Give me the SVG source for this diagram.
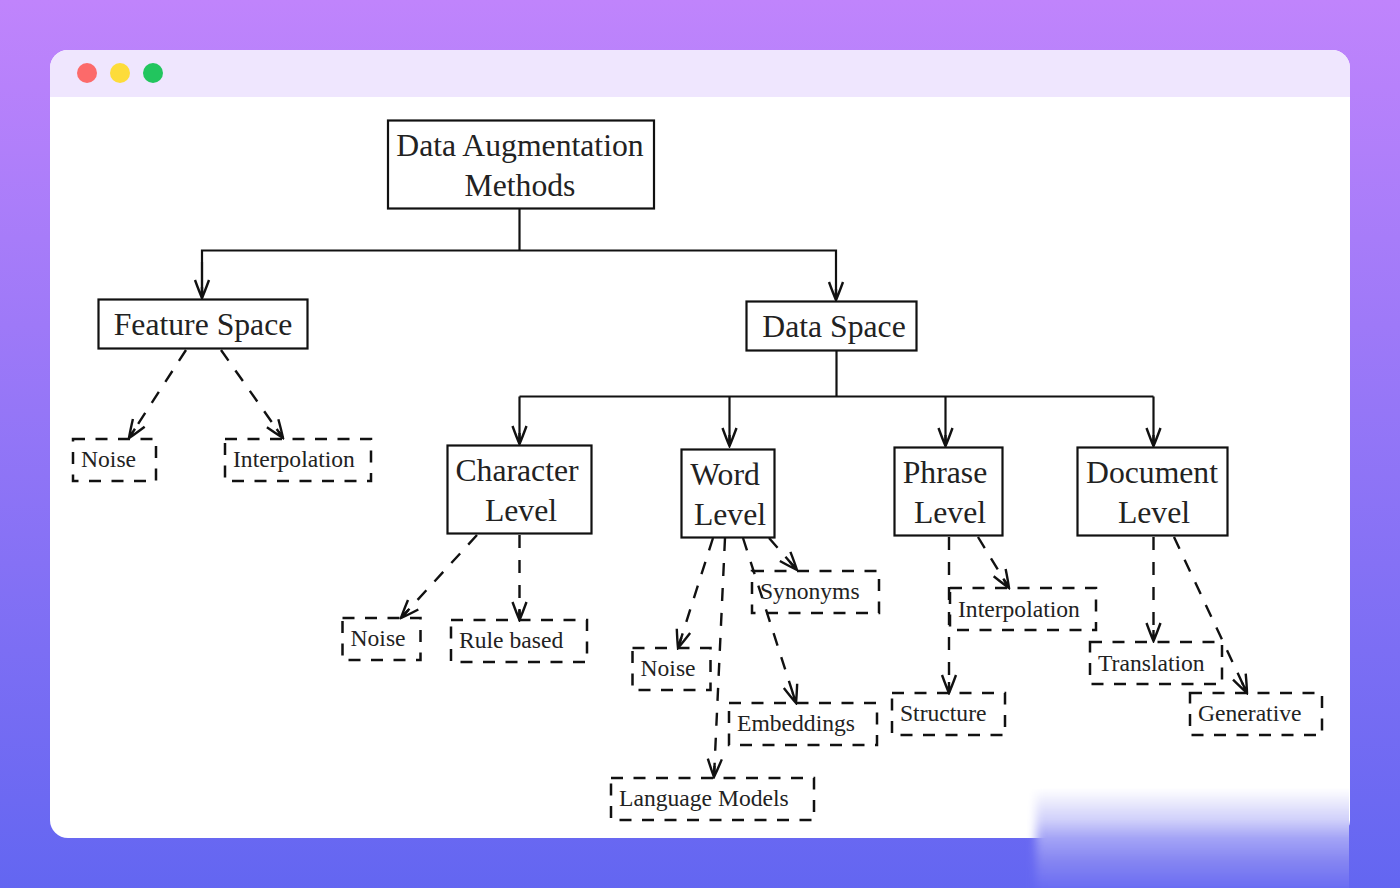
<svg xmlns="http://www.w3.org/2000/svg" width="1400" height="888" viewBox="0 0 1400 888">
<style>
text{font-family:"Liberation Serif","Times New Roman",serif;fill:#222}
.l{font-size:31.7px;text-anchor:middle}
.s{font-size:23.6px}
.b{fill:#fff;stroke:#111;stroke-width:2.2}
.d{fill:none;stroke:#111;stroke-width:2.5;stroke-dasharray:12 10.500}
.c{fill:none;stroke:#111;stroke-width:2.2}
.cd{fill:none;stroke:#111;stroke-width:2.4;stroke-dasharray:13 12}
.h{fill:none;stroke:#111;stroke-width:2.4;stroke-dasharray:none}
</style>
<defs>
<linearGradient id="bg" x1="0" y1="0" x2="0" y2="1"><stop offset="0" stop-color="#c084fc"/><stop offset="1" stop-color="#6366f1"/></linearGradient>
<linearGradient id="sm" x1="0" y1="0" x2="0" y2="1"><stop offset="0" stop-color="#fff"/><stop offset="0.09" stop-color="#fff"/><stop offset="0.2" stop-color="#eeeefd"/><stop offset="0.38" stop-color="#d0d0fa"/><stop offset="0.545" stop-color="#a4a4f6"/><stop offset="0.75" stop-color="#8686f2"/><stop offset="1" stop-color="#6a6cf3"/></linearGradient>
<filter id="soft" x="-5%" y="0" width="110%" height="100%"><feGaussianBlur stdDeviation="5 0"/></filter>
<clipPath id="smc"><rect x="1000" y="770" width="349" height="118"/></clipPath>
<marker id="a" viewBox="-20 -10 22 20" refX="0" refY="0" markerWidth="22" markerHeight="20" markerUnits="userSpaceOnUse" orient="auto"><path class="h" d="M-18-7Q-7-3 0 0Q-7 3-18 7M-11 0H0"/></marker>
</defs>
<rect id="background" width="1400" height="888" fill="url(#bg)"/>
<g id="window">
<rect x="50" y="50" width="1300" height="788" rx="18" fill="#fff"/>
<path d="M50 97V68a18 18 0 0 1 18-18H1332a18 18 0 0 1 18 18V97Z" fill="#efe6fe"/>
<circle cx="87" cy="73" r="10" fill="#fc6a6a"/>
<circle cx="120" cy="73" r="10" fill="#fddc3a"/>
<circle cx="153" cy="73" r="10" fill="#22c55e"/>
</g>
<g id="connectors">
<path class="c" d="M519.500 209V250.500"/>
<path class="c" d="M202 298V250.500H836V300" marker-end="url(#a)"/>
<path class="c" d="M202 262V298" marker-end="url(#a)"/>
<path class="c" d="M836.500 351V396.500"/>
<path class="c" d="M519.500 396.500H1153.500"/>
<path class="c" d="M519.500 396.500V444" marker-end="url(#a)"/>
<path class="c" d="M729.500 396.500V446" marker-end="url(#a)"/>
<path class="c" d="M945.500 396.500V446" marker-end="url(#a)"/>
<path class="c" d="M1153.500 396.500V446" marker-end="url(#a)"/>
<path class="cd" d="M186 350L129 438" marker-end="url(#a)"/>
<path class="cd" d="M221 350L283 438" marker-end="url(#a)"/>
<path class="cd" d="M477 535L401 618" marker-end="url(#a)"/>
<path class="cd" d="M519.500 535V620" marker-end="url(#a)"/>
<path class="cd" d="M713 538L678 648" marker-end="url(#a)"/>
<path class="cd" d="M725 538L714 777" marker-end="url(#a)"/>
<path class="cd" d="M743 538L796 703" marker-end="url(#a)"/>
<path class="cd" d="M769 538L797 570" marker-end="url(#a)"/>
<path class="cd" d="M949 537V693" marker-end="url(#a)"/>
<path class="cd" d="M978 537L1009 588" marker-end="url(#a)"/>
<path class="cd" d="M1153.500 537V641" marker-end="url(#a)"/>
<path class="cd" d="M1174 537L1247 693" marker-end="url(#a)"/>
</g>
<g id="root"><rect class="b" x="388" y="120.500" width="266" height="88"/><text class="l" x="520" y="156">Data Augmentation</text><text class="l" x="520" y="196">Methods</text></g>
<g id="feature-space"><rect class="b" x="98.500" y="299.500" width="209" height="49"/><text class="l" x="203" y="335">Feature Space</text></g>
<g id="data-space"><rect class="b" x="746.500" y="301.500" width="170" height="49"/><text class="l" x="834" y="337">Data Space</text></g>
<g id="character-level"><rect class="b" x="447.500" y="445.500" width="144" height="88"/><text class="l" x="517" y="481">Character</text><text class="l" x="521" y="521">Level</text></g>
<g id="word-level"><rect class="b" x="681.500" y="449.500" width="93" height="88"/><text class="l" x="725" y="485">Word</text><text class="l" x="730" y="525">Level</text></g>
<g id="phrase-level"><rect class="b" x="894.500" y="447.500" width="108" height="88"/><text class="l" x="945" y="483">Phrase</text><text class="l" x="950" y="523">Level</text></g>
<g id="document-level"><rect class="b" x="1077.500" y="447.500" width="150" height="88"/><text class="l" x="1152" y="483">Document</text><text class="l" x="1154" y="523">Level</text></g>
<g id="fs-noise"><rect class="d" x="73" y="439" width="83" height="42"/><text class="s" x="81" y="467">Noise</text></g>
<g id="fs-interpolation"><rect class="d" x="225" y="439" width="146" height="42"/><text class="s" x="233" y="467">Interpolation</text></g>
<g id="cl-noise"><rect class="d" x="342.500" y="618" width="78" height="42"/><text class="s" x="350.500" y="646">Noise</text></g>
<g id="cl-rule"><rect class="d" x="451" y="620" width="136" height="42"/><text class="s" x="459" y="648">Rule based</text></g>
<g id="wl-noise"><rect class="d" x="632.500" y="648" width="78" height="42"/><text class="s" x="640.500" y="676">Noise</text></g>
<g id="wl-synonyms"><rect class="d" x="752" y="571" width="127" height="42"/><text class="s" x="760" y="599">Synonyms</text></g>
<g id="wl-embeddings"><rect class="d" x="729" y="703" width="148" height="42"/><text class="s" x="737" y="731">Embeddings</text></g>
<g id="wl-language"><rect class="d" x="611" y="778" width="203" height="42"/><text class="s" x="619" y="806">Language Models</text></g>
<g id="pl-interpolation"><rect class="d" x="950" y="588" width="146" height="42"/><text class="s" x="958" y="617">Interpolation</text></g>
<g id="pl-structure"><rect class="d" x="892" y="693" width="113" height="42"/><text class="s" x="900" y="721">Structure</text></g>
<g id="dl-translation"><rect class="d" x="1090" y="642" width="132" height="42"/><text class="s" x="1098" y="671">Translation</text></g>
<g id="dl-generative"><rect class="d" x="1190" y="693" width="132" height="42"/><text class="s" x="1198" y="721">Generative</text></g>
<g clip-path="url(#smc)"><rect id="smudge" x="1036" y="778" width="330" height="110" fill="url(#sm)" filter="url(#soft)"/></g>
</svg>
